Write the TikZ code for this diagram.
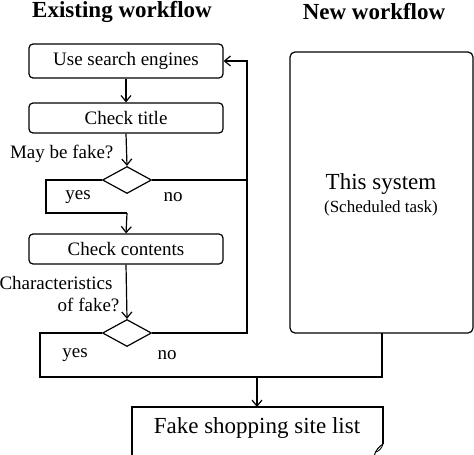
\documentclass[tikz,border=0pt]{standalone}
\usepackage{fontspec}
\setmainfont{Liberation Serif}
\usetikzlibrary{shapes.geometric,arrows.meta}
\begin{document}
\begin{tikzpicture}[x=1pt,y=-1pt,
  line width=1.2pt,
  stepbox/.style={draw,rounded corners=4pt,minimum width=194pt,inner sep=0pt,font=\fontsize{19}{22}\selectfont},
  decision/.style={draw,diamond,minimum width=49pt,minimum height=27pt,inner sep=0pt},
  lbl/.style={font=\fontsize{19}{22}\selectfont,inner sep=0pt},
  bigtxt/.style={font=\fontsize{23}{26}\selectfont,inner sep=0pt},
  smalltxt/.style={font=\fontsize{17}{20}\selectfont,inner sep=0pt},
  titletxt/.style={font=\fontsize{23}{26}\selectfont\bfseries,inner sep=0pt},
  arr/.style={-{Straight Barb[length=6pt,width=10pt]}}
]
\useasboundingbox (0,0) rectangle (474,455);
% titles
\node[titletxt] (t1) at (122,12) {Existing workflow};
\node[titletxt] (t2) at (374,12) {New workflow};
% existing workflow
\node[stepbox,minimum height=34pt] (b1) at (126,61) {Use search engines};
\node[stepbox,minimum height=30pt] (b2) at (126,118) {Check title};
\node[decision] (d1) at (127,180) {};
\node[stepbox,minimum height=30pt] (b3) at (126,249) {Check contents};
\node[decision] (d2) at (127,333) {};
\node[lbl,anchor=east] (q1) at (114,154) {May be fake?};
\node[lbl,anchor=east] (q2a) at (113,283) {Characteristics};
\node[lbl,anchor=east] (q2b) at (120,305) {of fake?};
\node[lbl] (y1) at (78,197) {yes};
\node[lbl] (n1) at (173,197) {no};
\node[lbl] (y2) at (75,355) {yes};
\node[lbl] (n2) at (167,355) {no};
% new workflow
\node[draw,rounded corners=5pt,minimum width=183pt,minimum height=281pt,inner sep=0pt] (sys) at (381.5,192.5) {};
\node[bigtxt] (syst) at (381,184) {This system};
\node[smalltxt] (sysb) at (381,208) {(Scheduled task)};
% output document
\coordinate (la) at (132,460);
\coordinate (lb) at (383,444);
\draw (la) -- (132,407) -- (383,407) -- (lb);
\draw[line width=1pt] (lb) .. controls (380,446) and (375,450) .. (374,457);
\draw[line width=0.8pt] (383,444) .. controls (382,448) and (379,451) .. (376,452);
\coordinate (ltop) at (257,407);
\node[bigtxt] (lst) at (257,428) {Fake shopping site list};
% coordinates for routing
\coordinate (loopx) at (247,0);
\coordinate (j1) at (46,213);
\coordinate (j2) at (127,213);
\coordinate (k1) at (40,377);
\coordinate (k2) at (257,377);
\coordinate (sb) at (382,333);
% connectors
\draw[arr] (b1.south) -- (b2.north);
\draw[arr] (b2.south) -- (d1.north);
\draw[arr] (b3.south) -- (d2.north);
\draw (d1.west) -| (j1) -- (j2);
\draw[arr] (j2) -- (b3.north);
\draw[arr] (d1.east) -| (loopx |- b1.east) -- (b1.east);
\draw (d2.east) -| (loopx |- d1.east);
\draw (d2.west) -| (k1) -- (k2);
\draw (sb) |- (k2);
\draw[arr] (k2) -- (ltop);
\end{tikzpicture}
\end{document}
